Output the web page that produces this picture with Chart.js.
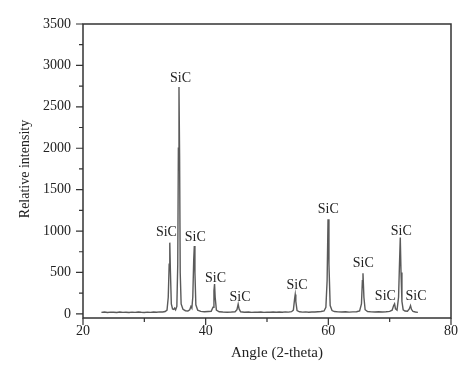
<!DOCTYPE html>
<html>
<head>
<meta charset="utf-8">
<script src="https://cdn.jsdelivr.net/npm/chart.js@4"></script>
<style>
  html, body { margin: 0; padding: 0; background: #fff; }
  #wrap { width: 474px; height: 380px; }
</style>
</head>
<body>
<div id="wrap"><canvas id="xrdChart" width="474" height="380"></canvas></div>
<script>
// XRD pattern
const angle = [
  23.0, 23.5, 24.0, 24.5, 25.0, 25.5, 26.0, 26.5, 27.0, 27.5, 28.0, 28.5, 29.0, 29.5,
  30.0, 30.5, 31.0, 31.5, 32.0, 32.5, 33.0, 33.4, 33.7, 33.9, 34.05, 34.15, 34.25, 34.4,
  34.6, 34.8, 34.95, 35.1, 35.3, 35.45, 35.55, 35.65, 35.75, 35.85, 36.0, 36.3, 36.7,
  37.1, 37.4, 37.6, 37.75, 37.9, 38.05, 38.15, 38.25, 38.4, 38.7, 39.2, 39.8, 40.4,
  40.9, 41.2, 41.35, 41.45, 41.55, 41.75, 42.2, 42.8, 43.5, 44.2, 44.8, 45.1, 45.3,
  45.45, 45.7, 46.3, 47.0, 47.5, 48.0, 48.5, 49.0, 49.5, 50.0, 50.5, 51.0, 51.5, 52.0,
  52.5, 53.0, 53.5, 54.0, 54.3, 54.5, 54.6, 54.7, 54.9, 55.3, 55.8, 56.3, 56.8, 57.3,
  57.8, 58.3, 58.8, 59.3, 59.6, 59.8, 59.95, 60.1, 60.3, 60.6, 61.0, 61.6, 62.2, 62.8,
  63.4, 64.0, 64.6, 65.1, 65.4, 65.55, 65.65, 65.8, 66.0, 66.4, 67.0, 67.6, 68.2, 68.8,
  69.4, 70.0, 70.4, 70.65, 70.8, 70.95, 71.2, 71.45, 71.6, 71.73, 71.85, 72.0, 72.2,
  72.5, 72.9, 73.2, 73.4, 73.55, 73.8, 74.2, 74.6
];
const intensity = [
  18, 22, 17, 21, 19, 16, 22, 18, 20, 17, 21, 18, 22, 19,
  17, 21, 18, 22, 19, 24, 22, 28, 45, 200, 600, 860, 520, 120,
  60, 55, 70, 50, 90, 600, 2000, 2740, 1900, 500, 120, 55, 38,
  35, 50, 90, 70, 200, 650, 820, 500, 110, 45, 30, 25, 28,
  30, 80, 280, 360, 200, 45, 25, 22, 20, 22, 25, 50, 117,
  60, 25, 20, 22, 18, 21, 19, 22, 18, 21, 19, 23, 20, 22,
  19, 24, 21, 26, 45, 180, 233, 150, 40, 25, 21, 24, 20, 23,
  22, 25, 28, 35, 80, 400, 1143, 600, 100, 40, 28, 24, 22, 25,
  21, 24, 26, 35, 120, 400, 491, 200, 50, 28, 24, 22, 25, 23,
  26, 30, 45, 100, 121, 60, 45, 200, 600, 921, 500, 150, 50,
  35, 32, 60, 100, 55, 30, 22, 18
];

// peak annotations (text centre, in data units)
const labelText = ['SiC', 'SiC', 'SiC', 'SiC', 'SiC', 'SiC', 'SiC', 'SiC', 'SiC', 'SiC', 'SiC'];
const labelAngle = [33.6, 35.9, 38.3, 41.6, 45.6, 54.9, 60.0, 65.7, 69.3, 71.9, 74.3];
const labelIntensity = [980, 2840, 930, 435, 205, 340, 1265, 605, 215, 1000, 215];

const xTicks = [20, 40, 60, 80];
const xMinor = [30, 50, 70];
const yTicks = [0, 500, 1000, 1500, 2000, 2500, 3000, 3500];
const yMinor = [250, 750, 1250, 1750, 2250, 2750, 3250];

const serif = '"Liberation Serif", "DejaVu Serif", serif';
const ink = '#222';

const points = angle.map((a, i) => ({ x: a, y: intensity[i] }));

// frame, tick marks, peak labels and axis titles
const decorPlugin = {
  id: 'decor',
  afterDraw(chart) {
    const ctx = chart.ctx;
    const area = chart.chartArea;
    const xs = chart.scales.x;
    const ys = chart.scales.y;
    ctx.save();

    ctx.strokeStyle = '#333';
    ctx.lineWidth = 1.5;
    ctx.strokeRect(area.left, area.top, area.right - area.left, area.bottom - area.top);

    ctx.lineWidth = 1.2;
    ctx.beginPath();
    yTicks.forEach(v => {
      const py = ys.getPixelForValue(v);
      ctx.moveTo(area.left, py); ctx.lineTo(area.left - 7, py);
    });
    yMinor.forEach(v => {
      const py = ys.getPixelForValue(v);
      ctx.moveTo(area.left, py); ctx.lineTo(area.left - 4, py);
    });
    xTicks.forEach(v => {
      const px = xs.getPixelForValue(v);
      ctx.moveTo(px, area.bottom); ctx.lineTo(px, area.bottom + 7);
    });
    xMinor.forEach(v => {
      const px = xs.getPixelForValue(v);
      ctx.moveTo(px, area.bottom); ctx.lineTo(px, area.bottom + 4);
    });
    ctx.stroke();

    ctx.fillStyle = ink;
    ctx.font = '14px ' + serif;
    ctx.textAlign = 'center';
    ctx.textBaseline = 'middle';
    labelText.forEach((t, i) => {
      ctx.fillText(t, xs.getPixelForValue(labelAngle[i]), ys.getPixelForValue(labelIntensity[i]));
    });

    ctx.font = '15px ' + serif;
    ctx.fillText('Angle (2-theta)', 277, 353);

    ctx.font = '14px ' + serif;
    ctx.translate(25, 169);
    ctx.rotate(-Math.PI / 2);
    ctx.fillText('Relative intensity', 0, 0);
    ctx.restore();
  }
};

const xrdChart = new Chart(document.getElementById('xrdChart'), {
  type: 'scatter',
  data: {
    datasets: [{
      label: 'XRD',
      data: points,
      showLine: true,
      borderColor: '#5a5a5a',
      borderWidth: 1.4,
      pointRadius: 0,
      tension: 0
    }]
  },
  options: {
    responsive: false,
    animation: false,
    layout: { padding: { top: 24, right: 23, left: 0, bottom: 0 } },
    plugins: {
      legend: { display: false },
      tooltip: { enabled: false }
    },
    scales: {
      x: {
        type: 'linear',
        min: 20,
        max: 80,
        afterBuildTicks: s => { s.ticks = xTicks.map(v => ({ value: v })); },
        afterFit: s => { s.height = 62; },
        grid: { display: false, drawTicks: false },
        border: { display: false },
        ticks: {
          padding: 5, color: ink, font: { family: serif, size: 14 },
          callback: v => String(v)
        }
      },
      y: {
        type: 'linear',
        min: -50,
        max: 3500,
        afterBuildTicks: s => { s.ticks = yTicks.map(v => ({ value: v })); },
        afterFit: s => { s.width = 83; },
        grid: { display: false, drawTicks: false },
        border: { display: false },
        ticks: {
          padding: 12, color: ink, font: { family: serif, size: 14 },
          callback: v => String(v)
        }
      }
    }
  },
  plugins: [decorPlugin]
});
</script>
</body>
</html>
